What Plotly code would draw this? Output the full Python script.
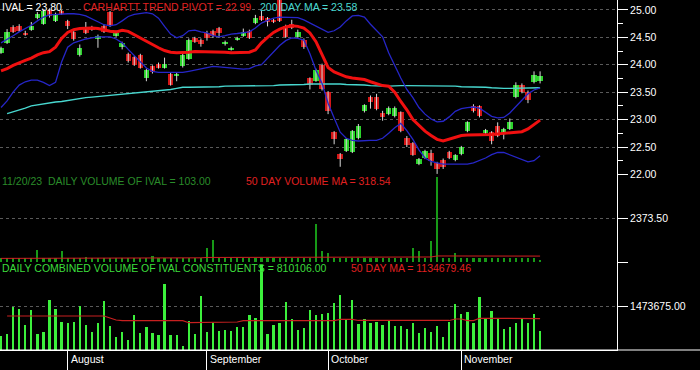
import plotly.graph_objects as go
import pandas as pd

# ---------------- data ----------------
DATES = [d.strftime('%Y-%m-%d') for d in
         pd.bdate_range('2023-07-17', '2023-11-20', freq='C', holidays=['2023-09-04'])]

OPEN = [24.22, 24.40, 24.69, 24.71, 24.58, 24.64, 24.85, 24.75, 25.00, 24.80,
        24.98, 24.80, 24.60, 24.17, 24.69, 24.69, 24.47, 24.71, 24.96, 24.53,
        24.33, 24.20, 24.14, 24.18, 23.75, 23.97, 24.02, 23.95, 23.84, 23.79,
        23.97, 24.11, 24.49, 24.46, 24.58, 24.62, 24.67, 24.37, 24.28, 24.46,
        24.53, 24.62, 24.76, 24.89, 24.85, 24.81, 25.20, 24.71, 24.75, 24.51,
        24.46, 23.75, 23.71, 24.00, 23.50, 22.77, 22.37, 22.43, 22.41, 22.66,
        23.15, 23.42, 23.42, 23.12, 23.10, 23.06, 23.13, 22.66, 22.57, 22.19,
        22.30, 22.39, 22.21, 22.27, 22.41, 22.26, 22.37, 22.79, 23.24, 23.24,
        22.75, 22.77, 22.88, 22.74, 22.83, 23.41, 23.64, 23.51, 23.68, 23.70]
HIGH = [24.33, 24.65, 24.72, 24.74, 24.62, 24.78, 24.96, 25.00, 25.03, 24.95,
        25.00, 24.82, 24.62, 24.37, 24.78, 24.71, 24.55, 24.73, 24.98, 24.62,
        24.42, 24.22, 24.16, 24.20, 23.93, 23.99, 24.04, 24.13, 23.86, 23.86,
        24.20, 24.48, 24.51, 24.48, 24.62, 24.64, 24.69, 24.44, 24.33, 24.51,
        24.66, 24.64, 24.91, 24.98, 24.87, 24.84, 25.22, 24.73, 24.82, 24.64,
        24.48, 23.77, 23.93, 24.02, 23.52, 22.79, 22.39, 22.66, 22.81, 22.92,
        23.28, 23.44, 23.47, 23.16, 23.24, 23.24, 23.15, 22.70, 22.59, 22.30,
        22.45, 22.45, 22.23, 22.29, 22.43, 22.37, 22.52, 22.97, 23.28, 23.26,
        22.83, 22.79, 22.95, 22.85, 23.02, 23.68, 23.66, 23.53, 23.88, 23.88]
LOW = [24.20, 24.38, 24.58, 24.60, 24.53, 24.62, 24.83, 24.73, 24.86, 24.78,
       24.91, 24.65, 24.44, 24.15, 24.56, 24.62, 24.31, 24.58, 24.69, 24.51,
       24.28, 24.04, 23.98, 23.93, 23.70, 23.84, 23.93, 23.93, 23.62, 23.70,
       23.95, 24.09, 24.40, 24.33, 24.44, 24.49, 24.49, 24.35, 24.26, 24.44,
       24.51, 24.47, 24.74, 24.80, 24.70, 24.76, 24.78, 24.49, 24.65, 24.49,
       24.29, 23.55, 23.69, 23.53, 23.10, 22.55, 22.14, 22.41, 22.39, 22.64,
       23.13, 23.20, 23.17, 22.98, 23.08, 23.04, 22.77, 22.50, 22.34, 22.17,
       22.28, 22.16, 22.01, 22.10, 22.28, 22.24, 22.35, 22.77, 23.13, 23.04,
       22.73, 22.55, 22.68, 22.64, 22.81, 23.39, 23.48, 23.30, 23.66, 23.66]
CLOSE = [24.31, 24.60, 24.60, 24.62, 24.55, 24.71, 24.93, 24.98, 24.89, 24.93,
         24.93, 24.71, 24.47, 24.31, 24.58, 24.64, 24.53, 24.60, 24.73, 24.58,
         24.40, 24.06, 24.00, 23.95, 23.91, 23.86, 23.95, 24.02, 23.64, 23.84,
         24.18, 24.46, 24.42, 24.38, 24.49, 24.53, 24.58, 24.42, 24.31, 24.49,
         24.60, 24.49, 24.85, 24.82, 24.78, 24.78, 24.80, 24.51, 24.67, 24.60,
         24.33, 23.64, 23.91, 23.55, 23.15, 22.65, 22.28, 22.64, 22.79, 22.88,
         23.26, 23.33, 23.19, 23.04, 23.22, 23.22, 22.79, 22.54, 22.36, 22.28,
         22.43, 22.25, 22.10, 22.14, 22.30, 22.35, 22.50, 22.95, 23.15, 23.06,
         22.81, 22.61, 22.70, 22.83, 22.95, 23.64, 23.50, 23.35, 23.82, 23.80]

TREND_PIVOT = [23.89, 23.93, 23.99, 24.04, 24.08, 24.12, 24.18, 24.22, 24.24, 24.32,
               24.48, 24.59, 24.64, 24.66, 24.67, 24.67, 24.66, 24.63, 24.61, 24.60,
               24.63, 24.61, 24.55, 24.48, 24.42, 24.37, 24.31, 24.26, 24.23, 24.22,
               24.22, 24.23, 24.24, 24.24, 24.24, 24.24, 24.23, 24.23, 24.22, 24.22,
               24.22, 24.23, 24.27, 24.40, 24.50, 24.59, 24.65, 24.69, 24.71, 24.70,
               24.67, 24.58, 24.42, 24.20, 23.95, 23.87, 23.82, 23.78, 23.76, 23.75,
               23.73, 23.69, 23.65, 23.62, 23.61, 23.50, 23.33, 23.18, 23.00, 22.90,
               22.79, 22.71, 22.64, 22.61, 22.64, 22.68, 22.71, 22.72, 22.72, 22.72,
               22.72, 22.73, 22.74, 22.75, 22.76, 22.77, 22.78, 22.83, 22.91, 22.99]
BB_UPPER = [24.40, 24.46, 24.53, 24.60, 24.66, 24.72, 24.80, 24.87, 24.91, 24.92,
            24.93, 24.93, 24.93, 24.92, 24.89, 24.84, 24.79, 24.73, 24.71, 24.73,
            24.80, 24.88, 24.92, 24.94, 24.95, 24.93, 24.85, 24.70, 24.56, 24.49,
            24.53, 24.62, 24.63, 24.60, 24.58, 24.53, 24.51, 24.53, 24.56, 24.57,
            24.58, 24.60, 24.67, 24.76, 24.81, 24.85, 24.87, 24.87, 24.87, 24.86,
            24.82, 24.76, 24.70, 24.65, 24.59, 24.62, 24.69, 24.80, 24.89, 24.90,
            24.87, 24.74, 24.62, 24.51, 24.22, 23.98, 23.76, 23.55, 23.40, 23.22,
            23.10, 23.01, 22.96, 22.97, 23.05, 23.15, 23.20, 23.22, 23.23, 23.21,
            23.13, 23.06, 23.03, 23.04, 23.12, 23.24, 23.35, 23.47, 23.54, 23.58]
BB_LOWER = [23.22, 23.34, 23.50, 23.63, 23.69, 23.72, 23.72, 23.68, 23.62, 23.68,
            24.05, 24.32, 24.40, 24.44, 24.47, 24.49, 24.51, 24.51, 24.51, 24.47,
            24.40, 24.28, 24.16, 24.04, 23.94, 23.88, 23.86, 23.86, 23.86, 23.86,
            23.86, 23.88, 23.90, 23.93, 23.95, 23.97, 23.96, 23.95, 23.94, 23.93,
            23.92, 23.93, 23.98, 24.00, 24.12, 24.22, 24.35, 24.44, 24.49, 24.48,
            24.45, 24.20, 23.90, 23.66, 23.30, 23.03, 22.77, 22.66, 22.62, 22.61,
            22.62, 22.62, 22.62, 22.66, 22.75, 22.85, 22.93, 22.80, 22.64, 22.45,
            22.30, 22.24, 22.21, 22.19, 22.19, 22.19, 22.19, 22.19, 22.21, 22.25,
            22.30, 22.36, 22.40, 22.40, 22.36, 22.32, 22.27, 22.23, 22.25, 22.34]
MA200 = [None, 23.11, 23.14, 23.17, 23.21, 23.25, 23.27, 23.29, 23.30, 23.32,
         23.33, 23.35, 23.37, 23.38, 23.40, 23.41, 23.42, 23.43, 23.44, 23.45,
         23.46, 23.47, 23.48, 23.49, 23.50, 23.51, 23.52, 23.54, 23.55, 23.57,
         23.59, 23.59, 23.59, 23.59, 23.60, 23.60, 23.60, 23.61, 23.61, 23.61,
         23.61, 23.62, 23.62, 23.62, 23.62, 23.62, 23.63, 23.63, 23.63, 23.64,
         23.64, 23.65, 23.65, 23.66, 23.66, 23.65, 23.65, 23.64, 23.64, 23.63,
         23.63, 23.62, 23.61, 23.61, 23.61, 23.62, 23.62, 23.62, 23.62, 23.62,
         23.62, 23.62, 23.61, 23.61, 23.61, 23.61, 23.60, 23.60, 23.59, 23.59,
         23.59, 23.58, 23.57, 23.57, 23.57, 23.57, 23.57, 23.57, 23.58, 23.58]

VOL_IVAL = [210, 230, 200, 240, 220, 190, 650, 230, 210, 240,
            590, 220, 200, 230, 250, 210, 220, 240, 200, 230,
            210, 220, 240, 200, 230, 320, 210, 220, 240, 200,
            230, 210, 220, 240, 750, 1190, 210, 230, 200, 220,
            240, 210, 230, 220, 200, 240, 210, 230, 220, 200,
            240, 210, 2050, 590, 490, 220, 240, 210, 230, 200,
            220, 240, 210, 230, 220, 200, 240, 210, 750, 590,
            230, 1130, 4580, 240, 210, 490, 220, 200, 240, 210,
            230, 220, 200, 240, 210, 230, 220, 200, 240, 103]
VOL_IVAL_MA50 = [195, 195, 195, 195, 195, 195, 195, 225, 225, 225,
                 225, 225, 225, 225, 225, 225, 225, 225, 225, 225,
                 225, 225, 225, 225, 225, 225, 225, 225, 225, 225,
                 225, 225, 225, 225, 245, 245, 245, 245, 245, 245,
                 245, 245, 245, 245, 245, 245, 245, 245, 245, 245,
                 245, 245, 270, 270, 270, 270, 270, 270, 270, 270,
                 270, 270, 270, 270, 270, 270, 270, 270, 270, 270,
                 270, 270, 325, 325, 325, 325, 325, 325, 325, 325,
                 325, 325, 325, 322, 322, 322, 320, 320, 320, 318.54]

VOL_COMB = [672000, 727000, 1446000, 1383000, 973000, 1355000, 727000, 782000, 1628000, 1383000,
            1055000, 1027000, 1055000, 1474000, 973000, 782000, 1027000, 1601000, 945000, 645000,
            782000, 563000, 1219000, 754000, 918000, 754000, 700000, 2066000, 700000, 700000,
            399000, 1082000, 727000, 1738000, 782000, 1027000, 809000, 836000, 809000, 918000,
            918000, 1219000, 1164000, 2575000, 727000, 973000, 1027000, 1574000, 1137000, 836000,
            891000, 1355000, 1219000, 1246000, 1273000, 1547000, 1765000, 1109000, 1628000, 1000000,
            1137000, 1027000, 1055000, 973000, 1082000, 945000, 945000, 864000, 1027000, 754000,
            891000, 782000, 945000, 645000, 1055000, 1519000, 1246000, 1301000, 1027000, 1710000,
            1137000, 1328000, 1137000, 864000, 918000, 1027000, 1137000, 1027000, 1246000, 810106]
VOL_COMB_MA50 = [None, 1205000, 1205000, 1208000, 1208000, 1205000, 1205000, 1205000, 1208000, 1208000,
                 1205000, 1205000, 1205000, 1205000, 1205000, 1205000, 1205000, 1205000, 1150000, 1097000,
                 1079000, 1079000, 1079000, 1079000, 1079000, 1079000, 1079000, 1079000, 1079000, 1079000,
                 1079000, 1025000, 1025000, 1044000, 1044000, 1044000, 1044000, 1044000, 1044000, 1044000,
                 1079000, 1079000, 1079000, 1079000, 1079000, 1079000, 1079000, 1079000, 1079000, 1079000,
                 1079000, 1079000, 1079000, 1079000, 1079000, 1079000, 1116000, 1116000, 1116000, 1085000,
                 1085000, 1085000, 1085000, 1085000, 1085000, 1085000, 1085000, 1085000, 1085000, 1085000,
                 1085000, 1085000, 1085000, 1085000, 1085000, 1125000, 1125000, 1080000, 1080000, 1144000,
                 1144000, 1144000, 1144000, 1144000, 1144000, 1144000, 1140000, 1138000, 1136000, 1134679.46]

MONTH_TICKS = ['2023-08-01', '2023-09-01', '2023-10-02', '2023-11-01']
MONTH_LABELS = ['August', 'September', 'October', 'November']
PRICE_TICKS = [22.0, 22.5, 23.0, 23.5, 24.0, 24.5, 25.0]
PRICE_MINOR = [22.25, 22.75, 23.25, 23.75, 24.25, 24.75]
VOL_IVAL_TICK = 2373.50
VOL_COMB_TICK = 1473675.00

# ---------------- styles ----------------
FONT = 'Liberation Sans, Arial, sans-serif'
GREEN = '#2ee02e'
RED = '#e01818'
GRID = '#5a5a5a'

fig = go.Figure()

# candle wicks
wx, wy = [], []
for d, h, l in zip(DATES, HIGH, LOW):
    wx += [d, d, None]
    wy += [l, h, None]
fig.add_trace(go.Scatter(x=wx, y=wy, mode='lines', line=dict(color='#d8d8d8', width=1),
                         hoverinfo='skip', yaxis='y'))

# indicator lines
fig.add_trace(go.Scatter(x=DATES, y=MA200, mode='lines', line=dict(color='#48d8d0', width=1.4),
                         name='200 DAY MA', yaxis='y'))
fig.add_trace(go.Scatter(x=DATES, y=BB_UPPER, mode='lines', line=dict(color='#2626c8', width=1.3),
                         name='BB upper', yaxis='y'))
fig.add_trace(go.Scatter(x=DATES, y=BB_LOWER, mode='lines', line=dict(color='#2626c8', width=1.3),
                         name='BB lower', yaxis='y'))
fig.add_trace(go.Scatter(x=DATES, y=TREND_PIVOT, mode='lines', line=dict(color='#f01010', width=3),
                         name='Trend pivot', yaxis='y'))

# candle bodies
base = [min(o, c) for o, c in zip(OPEN, CLOSE)]
height = [max(abs(c - o), 0.015) for o, c in zip(OPEN, CLOSE)]
colors = [GREEN if c >= o else RED for o, c in zip(OPEN, CLOSE)]
fig.add_trace(go.Bar(x=DATES, y=height, base=base, marker=dict(color=colors, line=dict(width=0)),
                     width=0.9, opacity=0.95, yaxis='y', name='IVAL'))

# IVAL volume
fig.add_trace(go.Bar(x=DATES, y=VOL_IVAL, marker=dict(color='#179a17', line=dict(width=0)),
                     width=0.36, yaxis='y2', name='Volume'))
fig.add_trace(go.Scatter(x=DATES, y=VOL_IVAL_MA50, mode='lines', line=dict(color='#d02020', width=1),
                         yaxis='y2', name='50 DAY VOLUME MA'))

# combined volume
fig.add_trace(go.Bar(x=DATES, y=VOL_COMB, marker=dict(color='#3cf03c', line=dict(width=0)),
                     width=0.38, yaxis='y3', name='Combined volume'))
fig.add_trace(go.Scatter(x=DATES, y=VOL_COMB_MA50, mode='lines', line=dict(color='#c82020', width=1.2),
                         yaxis='y3', name='50 DAY MA'))

axis_common = dict(side='right', anchor='x', showline=True, linecolor='white', linewidth=1,
                   ticks='outside', ticklen=10, tickcolor='white', tickwidth=1,
                   tickfont=dict(color='white', size=10.5, family=FONT),
                   showgrid=True, gridcolor=GRID, gridwidth=1, griddash='3px,3px',
                   zeroline=False, fixedrange=True)

fig.update_layout(
    width=700, height=370,
    margin=dict(l=0, r=83, t=0, b=20, pad=0),
    paper_bgcolor='black', plot_bgcolor='black',
    showlegend=False, barmode='overlay', bargap=0,
    font=dict(family=FONT, color='white'),
    xaxis=dict(type='category', domain=[0, 1], anchor='y3', range=[-0.17, 101.7],
               showgrid=False, zeroline=False, showline=True, linecolor='white', linewidth=1,
               ticks='outside', ticklen=20, tickcolor='white', tickwidth=1,
               tickmode='array', tickvals=MONTH_TICKS, showticklabels=False, fixedrange=True),
    yaxis=dict(domain=[0.5, 1.0], range=[21.99, 25.181],
               tickmode='array', tickvals=PRICE_TICKS, ticktext=[f'{v:.2f}' for v in PRICE_TICKS],
               minor=dict(tickmode='array', tickvals=PRICE_MINOR, ticklen=5, tickcolor='white',
                          ticks='outside', showgrid=False),
               **axis_common),
    yaxis2=dict(domain=[88 / 350, 0.5], range=[0, 4693],
                tickmode='array', tickvals=[0, VOL_IVAL_TICK], ticktext=['', f'{VOL_IVAL_TICK:.2f}'],
                **axis_common),
    yaxis3=dict(domain=[0, 88 / 350], range=[291615, 2655735],
                tickmode='array', tickvals=[VOL_COMB_TICK], ticktext=[f'{VOL_COMB_TICK:.2f}'],
                **axis_common),
)

# bottom axis line extending under the price scale
fig.add_shape(type='line', xref='paper', yref='paper', x0=0, x1=700 / 617, y0=0, y1=0,
              line=dict(color='white', width=1))

annotations = []
for d, lab in zip(MONTH_TICKS, MONTH_LABELS):
    annotations.append(dict(x=d, y=0, xref='x', yref='paper', text=lab, showarrow=False,
                            xanchor='left', yanchor='top', xshift=1, yshift=-1,
                            font=dict(color='white', size=10.5, family=FONT)))


def label(x_px, y_px, text, color):
    annotations.append(dict(x=x_px / 617, y=1 - y_px / 350, xref='paper', yref='paper',
                            text=text, showarrow=False, xanchor='left', yanchor='middle',
                            font=dict(color=color, size=10.5, family=FONT)))


label(0, 7, f'IVAL = {CLOSE[-1]:.2f}', 'white')
label(81, 7, f'CARHARTT TREND PIVOT = {TREND_PIVOT[-1]:.2f}', '#e02020')
label(258, 7, f'200 DAY MA = {MA200[-1]:.2f}', '#48d8d0')
label(0, 181, f'11/20/23\u00a0\u00a0DAILY VOLUME OF IVAL = {VOL_IVAL[-1]:.2f}', '#2a8c2a')
label(244, 181, f'50 DAY VOLUME MA = {VOL_IVAL_MA50[-1]:.2f}', '#e02020')
label(0, 268, f'DAILY COMBINED VOLUME OF IVAL CONSTITUENTS = {VOL_COMB[-1]:.2f}', '#3cdc3c')
label(349, 268, f'50 DAY MA = {VOL_COMB_MA50[-1]:.2f}', '#e02020')

fig.update_layout(annotations=annotations)

fig.write_html('out.html')
